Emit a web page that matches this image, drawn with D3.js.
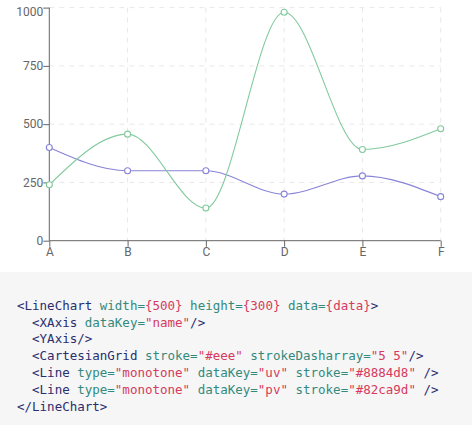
<!DOCTYPE html>
<html><head><meta charset="utf-8">
<script src="https://cdn.jsdelivr.net/npm/d3@7"></script>
<style>
html,body{margin:0;padding:0;background:#fff;}
svg{display:block;}
</style></head>
<body>
<svg id="c" width="474" height="427"></svg>
<script>
const categories = ["A","B","C","D","E","F"];
const uvValues = [400, 300, 300, 200, 278, 189];
const pvValues = [240, 457, 140, 980, 391, 480];
const yTicks = [0, 250, 500, 750, 1000];

const codeLines = [
  [["<LineChart","t"],[" width=","a"],["{500}","v"],[" height=","a"],["{300}","v"],[" data=","a"],["{data}","v"],[">","t"]],
  [["  <XAxis","t"],[" dataKey=","a"],["\"name\"","v"],["/>","t"]],
  [["  <YAxis/>","t"]],
  [["  <CartesianGrid","t"],[" stroke=","a"],["\"#eee\"","v"],[" strokeDasharray=","a"],["\"5 5\"","v"],["/>","t"]],
  [["  <Line","t"],[" type=","a"],["\"monotone\"","v"],[" dataKey=","a"],["\"uv\"","v"],[" stroke=","a"],["\"#8884d8\"","v"],[" />","t"]],
  [["  <Line","t"],[" type=","a"],["\"monotone\"","v"],[" dataKey=","a"],["\"pv\"","v"],[" stroke=","a"],["\"#82ca9d\"","v"],[" />","t"]],
  [["</LineChart>","t"]]
];

const svg = d3.select("#c");
const x = d3.scalePoint().domain(categories).range([49.3, 440.7]);
const y = d3.scaleLinear().domain([0, 1000]).range([240.7, 7.6]);

// grid
const grid = svg.append("g");
grid.selectAll("line.h").data(yTicks.filter(d=>d>0)).join("line")
  .attr("x1", x.range()[0]).attr("x2", x.range()[1])
  .attr("y1", d=>y(d)).attr("y2", d=>y(d))
  .attr("stroke","#e8e8e8").attr("stroke-dasharray","5 5");
grid.selectAll("line.v").data(categories.slice(1)).join("line")
  .attr("x1", d=>x(d)).attr("x2", d=>x(d))
  .attr("y1", y(1000)).attr("y2", y(0))
  .attr("stroke","#e8e8e8").attr("stroke-dasharray","5 5");

// axes
const xAxis = svg.append("g").attr("transform",`translate(0,${y(0)})`)
  .call(d3.axisBottom(x).tickSize(6).tickPadding(2));
const yAxis = svg.append("g").attr("transform",`translate(${x.range()[0]},0)`)
  .call(d3.axisLeft(y).tickValues(yTicks).tickFormat(d3.format("d")).tickSize(6).tickPadding(0));
[xAxis, yAxis].forEach(g=>{
  g.select(".domain").attr("stroke","#666");
  g.selectAll(".tick line").attr("stroke","#666");
  g.selectAll(".tick text").attr("fill","#666").attr("font-family","Roboto, 'Noto Sans', sans-serif").attr("font-size",12);
});
xAxis.select(".domain").attr("d", `M${x.range()[0]},0H${x.range()[1]}`);
xAxis.selectAll(".tick text").attr("dy","0.62em");
yAxis.select(".domain").attr("d", `M0,${y(1000)}V${y(0)}`);
yAxis.selectAll(".tick").filter(d=>d===1000).select("text").attr("dy","0.65em");

// lines
const line = d3.line().curve(d3.curveMonotoneX).x((d,i)=>x(categories[i])).y(d=>y(d));
function series(vals, color){
  svg.append("path").datum(vals).attr("d", line).attr("fill","none").attr("stroke",color).attr("stroke-width",1.1);
  svg.append("g").selectAll("circle").data(vals).join("circle")
    .attr("cx",(d,i)=>x(categories[i])).attr("cy",d=>y(d)).attr("r",3)
    .attr("fill","#fff").attr("stroke",color).attr("stroke-width",1.1);
}
series(uvValues, "#8884d8");
series(pvValues, "#82ca9d");

// code block
svg.append("rect").attr("x",0).attr("y",272).attr("width",472).attr("height",153).attr("fill","#f6f6f7");
const colors = {t:"#2b2e6e", a:"#338a7c", v:"#d63a5c"};
const codeY = d3.scaleLinear().domain([0, codeLines.length-1]).range([309.6, 411.1]);
const txt = svg.append("g").attr("font-family","'DejaVu Sans Mono', 'Liberation Mono', monospace").attr("font-size",12.5);
codeLines.forEach((ln,i)=>{
  const t = txt.append("text").attr("x",17).attr("y",codeY(i)).attr("xml:space","preserve").style("white-space","pre");
  ln.forEach(([s,k])=>t.append("tspan").attr("fill",colors[k]).text(s));
});
</script>
</body></html>
